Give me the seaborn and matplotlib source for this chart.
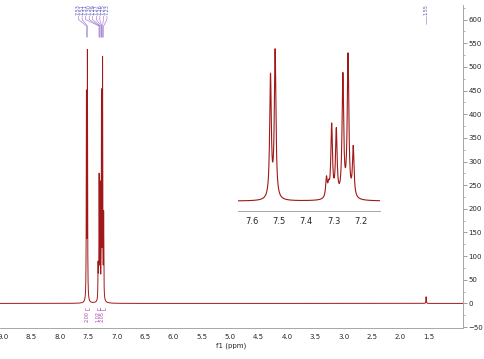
import numpy as np
import pandas as pd
import matplotlib
matplotlib.use("Agg")
import matplotlib.pyplot as plt
import seaborn as sns

# ---- data ----
peak_ppm = [7.531, 7.514, 7.326, 7.318, 7.307, 7.290, 7.266, 7.247, 7.228, 1.55]
peak_height = [430, 520, 70, 35, 255, 235, 430, 500, 175, 14]
peak_hwhm = [0.0035, 0.0035, 0.0035, 0.0035, 0.0035, 0.0035, 0.0035, 0.0035, 0.0035, 0.004]
peak_labels = ["7.53", "7.51", "7.31", "7.30", "7.29", "7.27", "7.26", "7.25", "7.23"]
label_peaks = [7.531, 7.514, 7.310, 7.300, 7.290, 7.270, 7.262, 7.247, 7.228]
integ_ranges = [(7.56, 7.49), (7.34, 7.30), (7.29, 7.21)]
integ_values = ["2.00", "1.02", "2.05"]
main_xticks = [9.0, 8.5, 8.0, 7.5, 7.0, 6.5, 6.0, 5.5, 5.0, 4.5, 4.0, 3.5, 3.0, 2.5, 2.0, 1.5]
main_yticks = [600, 550, 500, 450, 400, 350, 300, 250, 200, 150, 100, 50, 0, -50]
inset_xticks = [7.6, 7.5, 7.4, 7.3, 7.2]

ppm = np.linspace(9.06, 0.89, 20000)
inten = np.zeros_like(ppm)
for c, h, w in zip(peak_ppm, peak_height, peak_hwhm):
    inten += h * w**2 / ((ppm - c)**2 + w**2)
df = pd.DataFrame({"ppm": ppm, "I": inten})

sns.set_style("white")
plt.rcParams['font.family'] = ['DejaVu Sans']

W, H = 485, 359
fig = plt.figure(figsize=(W/100, H/100), dpi=100)
ax = fig.add_axes([0, (H-328)/H, 463/W, (328-5)/H])
line_col = "#a01818"
sns.lineplot(data=df, x="ppm", y="I", ax=ax, color=line_col, linewidth=0.7, estimator=None, sort=False)
ax.set_xlim(9.053, 0.90)
ax.set_ylim(-52, 631)
ax.yaxis.tick_right()
ax.yaxis.set_label_position("right")
ax.set_ylabel("")
ax.set_xlabel("f1 (ppm)", fontsize=5, labelpad=1)
ax.xaxis.set_label_coords(0.5, -0.045)
ax.set_xticks(main_xticks)
ax.set_xticklabels([f"{t:.1f}" for t in main_xticks])
ax.set_xticks(np.arange(1.0, 9.1, 0.25), minor=True)
ax.set_yticks(main_yticks)
ax.set_yticks(np.arange(-50, 626, 25), minor=True)
for s in ["top", "left"]:
    ax.spines[s].set_visible(False)
for s in ["right", "bottom"]:
    ax.spines[s].set_color("#999999")
    ax.spines[s].set_linewidth(0.6)
ax.tick_params(axis="both", which="major", labelsize=5, length=3, width=0.5, color="#777777", pad=1, direction="out")
ax.tick_params(axis="both", which="minor", length=1.5, width=0.4, color="#777777", direction="out")
ax.tick_params(axis="y", which="both", right=True, left=False)

# peak labels
lab_col = "#5a5ab8"
xt = ax.get_xaxis_transform()
n = len(peak_labels)
lab_x = np.linspace(7.67, 7.17, n)
for lx, pk, lab in zip(lab_x, label_peaks, peak_labels):
    ax.text(lx, 0.968, lab, rotation=90, fontsize=3.5, color=lab_col, ha="center", va="bottom",
            transform=xt, clip_on=False)
    ax.plot([lx, lx, pk, pk], [0.966, 0.955, 0.935, 0.90], color="#9a6ac8", lw=0.4,
            transform=xt, clip_on=False)
ax.text(1.55, 0.968, "1.55", rotation=90, fontsize=3.5, color=lab_col, ha="center", va="bottom",
        transform=xt, clip_on=False)
ax.plot([1.55, 1.55], [0.966, 0.94], color="#9a6ac8", lw=0.4, transform=xt, clip_on=False)

# integrations
int_col = "#b040b0"
for (a, b), v in zip(integ_ranges, integ_values):
    ax.plot([a, a, b, b], [-10, -13, -13, -10], color=int_col, lw=0.4)
    ax.text((a + b) / 2, -16, v, rotation=90, fontsize=3.5, color=int_col, ha="center", va="top")

# inset
axi = fig.add_axes([238/W, (H-211)/H, (380-238)/W, (211-40)/H])
sub = df[(df.ppm < 7.66) & (df.ppm > 7.12)]
sns.lineplot(data=sub, x="ppm", y="I", ax=axi, color=line_col, linewidth=0.8, estimator=None, sort=False)
axi.set_xlim(7.65, 7.13)
axi.set_ylim(-35, 568)
axi.set_xlabel("")
axi.set_ylabel("")
axi.set_yticks([])
axi.set_xticks(inset_xticks)
axi.set_xticklabels([f"{t:.1f}" for t in inset_xticks])
axi.set_xticks(np.arange(7.15, 7.66, 0.05), minor=True)
axi.patch.set_alpha(0)
for s in ["top", "left", "right"]:
    axi.spines[s].set_visible(False)
axi.spines["bottom"].set_color("#999999")
axi.spines["bottom"].set_linewidth(0.6)
axi.tick_params(axis="x", which="major", labelsize=6, length=3, width=0.5, color="#777777", pad=1)
axi.tick_params(axis="x", which="minor", length=1.5, width=0.4, color="#777777")

fig.savefig("out.png", dpi=100)
